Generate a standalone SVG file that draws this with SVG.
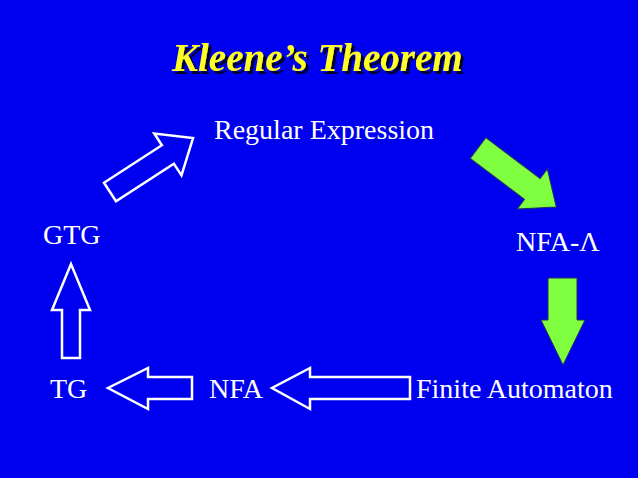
<svg xmlns="http://www.w3.org/2000/svg" width="638" height="478" viewBox="0 0 638 478">
<defs>
<filter id="sh" x="-5%" y="-20%" width="115%" height="150%"><feDropShadow dx="3" dy="3" stdDeviation="0.5" flood-color="#000030"/></filter>
</defs>
<style>
.t{font-family:"Liberation Serif","Times New Roman",serif;font-size:28px;fill:#fff}
.w{fill:none;stroke:#fff;stroke-width:2.5}
.g{fill:#80ff40;stroke:#203060;stroke-width:1}
</style>
<rect width="638" height="478" fill="#0000f0"/>
<g id="title"><text x="172" y="71" font-family="Liberation Serif,serif" font-weight="bold" font-style="italic" font-size="39" fill="#ffff20" filter="url(#sh)">Kleene’s Theorem</text></g>
<g id="re"><text class="t" x="214" y="139">Regular Expression</text></g>
<g id="nfal"><text class="t" x="516" y="251">NFA-Λ</text></g>
<g id="fa"><text class="t" x="416" y="398">Finite Automaton</text></g>
<g id="nfa"><text class="t" x="209" y="398">NFA</text></g>
<g id="tg"><text class="t" x="50" y="398">TG</text></g>
<g id="gtg"><text class="t" x="43" y="244">GTG</text></g>
<g id="connectors">
<path class="w" transform="translate(110,192) rotate(-33)" d="M0,-11 H69 V-25 L99,0 L69,25 V11 H0 Z"/>
<path class="g" transform="translate(478,148) rotate(37)" d="M0,-13 H68 V-25 L98,0 L68,25 V13 H0 Z"/>
<path class="g" d="M548,278 H577 V320 H585 L563,365 L541,320 H548 Z"/>
<path class="w" d="M410,377 H310 V368 L272,388 L310,409 V399 H410 Z"/>
<path class="w" d="M192,377 H148 V368 L108,388 L148,409 V399 H192 Z"/>
<path class="w" d="M62,358 V310 H52 L71,264 L90,310 H80 V358 Z"/>
</g>
</svg>
